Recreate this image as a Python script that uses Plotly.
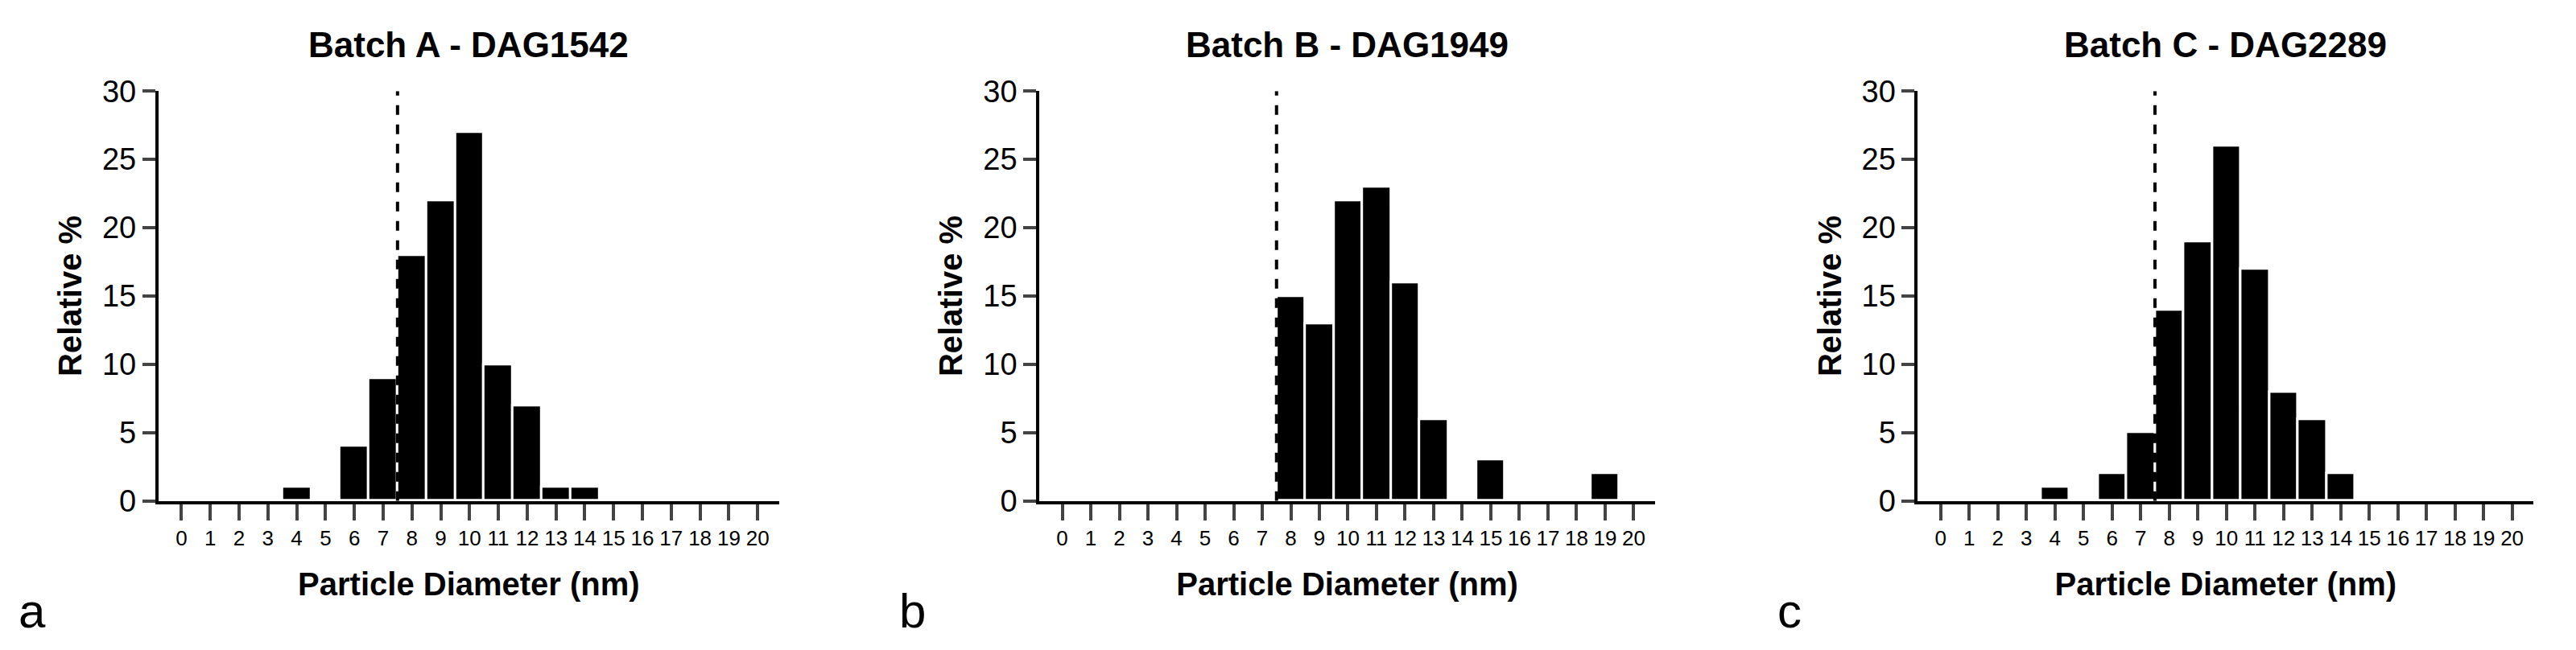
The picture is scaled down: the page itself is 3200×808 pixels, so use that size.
import plotly.graph_objects as go

diam = list(range(21))
batch_a = [0, 0, 0, 0, 1, 0, 4, 9, 18, 22, 27, 10, 7, 1, 1, 0, 0, 0, 0, 0, 0]
batch_b = [0, 0, 0, 0, 0, 0, 0, 0, 15, 13, 22, 23, 16, 6, 0, 3, 0, 0, 0, 2, 0]
batch_c = [0, 0, 0, 0, 1, 0, 2, 5, 14, 19, 26, 17, 8, 6, 2, 0, 0, 0, 0, 0, 0]
titles = ["Batch A - DAG1542", "Batch B - DAG1949", "Batch C - DAG2289"]
letters = ["a", "b", "c"]
cutoff = 7.5

domains = [[0.059, 0.300], [0.401, 0.640], [0.742, 0.981]]
font = "Liberation Sans, Arial, sans-serif"

fig = go.Figure()
for i, vals in enumerate([batch_a, batch_b, batch_c]):
    n = "" if i == 0 else str(i + 1)
    fig.add_trace(go.Bar(x=diam, y=vals, width=1.0, marker_color="black",
                         marker_line_color="white", marker_line_width=3,
                         xaxis="x" + n, yaxis="y" + n, showlegend=False))
    fig.add_trace(go.Scatter(x=[cutoff, cutoff], y=[0, 30], mode="lines",
                             line=dict(color="black", width=4, dash="dash"),
                             xaxis="x" + n, yaxis="y" + n, showlegend=False))
    fig.update_layout({
        "xaxis" + n: dict(domain=domains[i], anchor="y" + n, range=[-0.8, 20.75],
                          tickvals=diam, ticks="outside", ticklen=20, tickwidth=4,
                          showline=True, linewidth=4, linecolor="black",
                          showgrid=False, zeroline=False, tickangle=0,
                          tickfont=dict(size=26, family=font, color="black"),
                          title=dict(text="<b>Particle Diameter (nm)</b>",
                                     font=dict(size=40, family=font, color="black"),
                                     standoff=30)),
        "yaxis" + n: dict(domain=[0.225, 0.89], anchor="x" + n, range=[0, 30],
                          tickvals=[0, 5, 10, 15, 20, 25, 30], ticks="outside",
                          ticklen=16, tickwidth=4, showline=True, linewidth=4,
                          linecolor="black", showgrid=False, zeroline=False,
                          tickfont=dict(size=38, family=font, color="black"),
                          title=dict(text="<b>Relative %</b>",
                                     font=dict(size=40, family=font, color="black"),
                                     standoff=14)),
    })
    mid = (domains[i][0] + domains[i][1]) / 2
    fig.add_annotation(text="<b>" + titles[i] + "</b>", x=mid, y=1.0,
                       xref="paper", yref="paper", showarrow=False,
                       xanchor="center", yanchor="top",
                       font=dict(size=44, family=font, color="black"))
    fig.add_annotation(text=letters[i], x=[0.004, 0.346, 0.687][i], y=0.0,
                       xref="paper", yref="paper", showarrow=False,
                       xanchor="left", yanchor="bottom",
                       font=dict(size=60, family=font, color="black"))

fig.update_layout(width=3200, height=808, margin=dict(l=0, r=0, t=0, b=0),
                  plot_bgcolor="white", paper_bgcolor="white", bargap=0)
fig.write_html("out.html")
